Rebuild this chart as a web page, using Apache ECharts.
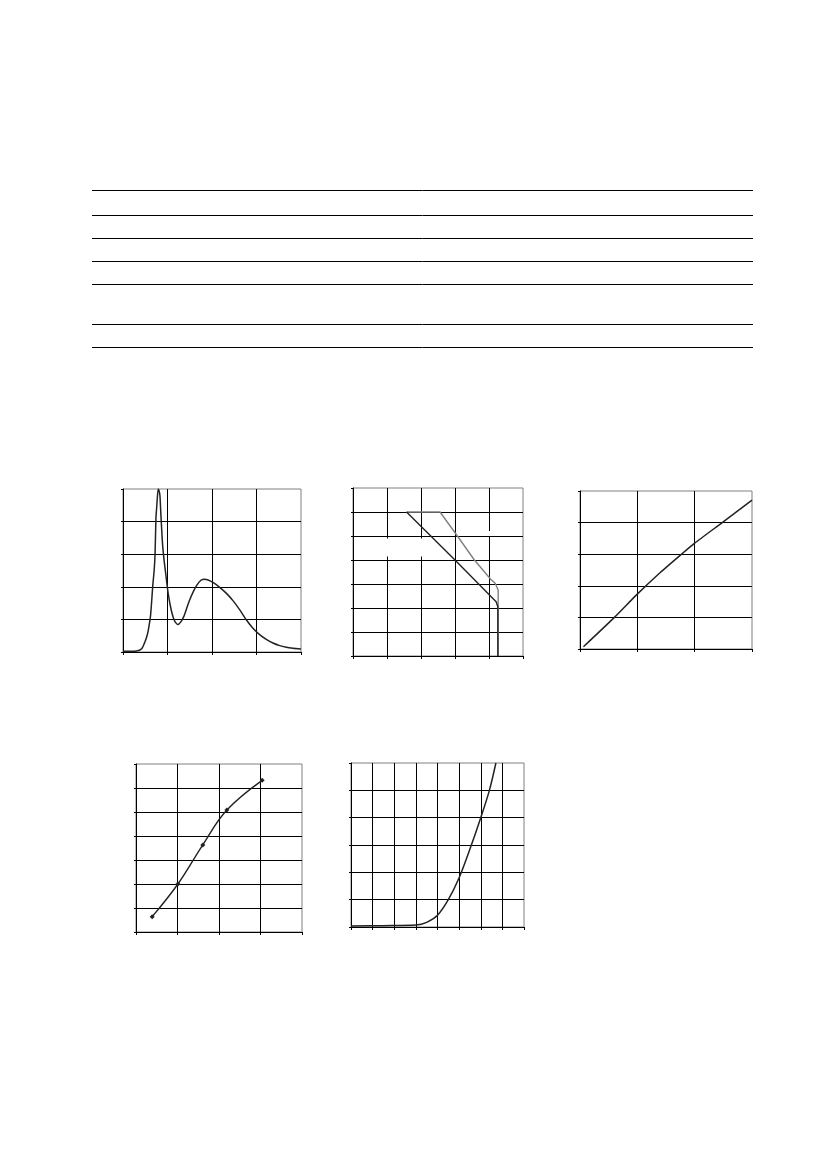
<!DOCTYPE html>
<html>
<head>
<meta charset="utf-8">
<script src="https://cdn.jsdelivr.net/npm/echarts@6/dist/echarts.min.js"></script>
<style>
html,body{margin:0;padding:0;background:#fff;}
#c{width:826px;height:1169px;}
</style>
</head>
<body>
<div id="c"></div>
<script>
// Chart 1: relative spectral distribution
const spectrumX = [400,430,442,449,454,457,462,467,470,472,474,476,479,481,483,485,487,489,492,496,502,509,516,523,530,537,543,550,558,566,575,583,590,603,618,633,648,662,677,692,707,722,737,752,767,782,800];
const spectrumY = [0.004,0.006,0.02,0.06,0.1,0.135,0.226,0.41,0.5,0.595,0.82,0.9,1.0,0.99,0.96,0.85,0.75,0.657,0.57,0.48,0.35,0.25,0.19,0.168,0.185,0.22,0.267,0.32,0.37,0.41,0.44,0.447,0.443,0.425,0.395,0.358,0.312,0.26,0.198,0.146,0.107,0.078,0.055,0.039,0.029,0.023,0.018];

// Chart 2: derating curves
const deratingDarkX = [1.575,3.0,4.21,4.26,4.26];
const deratingDarkY = [6,4.0,2.26,2.05,0];
const deratingGrayX = [1.575,2.56,3.07,3.57,4.05,4.18,4.27,4.27];
const deratingGrayY = [6,6,5.0,4.0,3.2,3.03,2.75,0];

// Chart 3: near-linear curve
const linX = [0.06,0.6,0.99,1.4,1.77,2.0,2.48,3.0];
const linY = [0.07,1.0,1.72,2.42,3.0,3.35,4.0,4.71];

// Chart 4: measured points
const ptsX = [0.39,1.01,1.61,2.19,3.04];
const ptsY = [0.64,2.0,3.63,5.08,6.32];

// Chart 5: exponential-like curve
const expX = [0,1.5,3.0,3.5,4.0,4.5,5.0,5.5,6.0,6.4,6.7];
const expY = [0.04,0.05,0.07,0.17,0.43,1.0,1.8,2.85,4.0,5.0,6.0];

// Axis ranges [min, max, interval]
const axesX = [[400,800,100],[0,5,1],[0,3,1],[0,4,1],[0,8,1]];
const axesY = [[0,1,0.2],[0,7,1],[0,5,1],[0,7,1],[0,6,1]];

const zip = (a,b) => a.map((v,i)=>[v,b[i]]);

const grids = [
  {left:123, top:489, width:178, height:163},
  {left:353, top:488, width:170, height:168},
  {left:580, top:491, width:172, height:158},
  {left:136, top:764, width:166, height:168},
  {left:351, top:763, width:173, height:164}
];

const chart = echarts.init(document.getElementById('c'), null, {renderer:'canvas'});

const xAxis = axesX.map((a,i)=>({
  type:'value', gridIndex:i, min:a[0], max:a[1], interval:a[2],
  axisLine:{show:true, onZero:false, lineStyle:{color:'#000', width:1}},
  axisTick:{show:true, length:3, lineStyle:{color:'#000'}},
  axisLabel:{show:false},
  splitLine:{show:true, showMinLine:false, showMaxLine:false, lineStyle:{color:'#000', width:1}}
}));
const yAxis = axesY.map((a,i)=>({
  type:'value', gridIndex:i, min:a[0], max:a[1], interval:a[2],
  axisLine:{show:true, onZero:false, lineStyle:{color:'#000', width:1}},
  axisTick:{show:true, length:2, lineStyle:{color:'#000'}},
  axisLabel:{show:false},
  splitLine:{show:true, showMinLine:false, showMaxLine:false, lineStyle:{color:'#000', width:1}}
}));

const lineBase = {type:'line', showSymbol:false, animation:false, z:3};

const series = [
  Object.assign({}, lineBase, {xAxisIndex:0, yAxisIndex:0, smooth:0.2, data:zip(spectrumX,spectrumY), lineStyle:{color:'#222', width:1.5}}),
  Object.assign({}, lineBase, {xAxisIndex:1, yAxisIndex:1, data:zip(deratingGrayX,deratingGrayY), lineStyle:{color:'#808080', width:1.4}}),
  Object.assign({}, lineBase, {xAxisIndex:1, yAxisIndex:1, data:zip(deratingDarkX,deratingDarkY), lineStyle:{color:'#222', width:1.4}}),
  Object.assign({}, lineBase, {xAxisIndex:2, yAxisIndex:2, smooth:0.2, data:zip(linX,linY), lineStyle:{color:'#222', width:1.5}}),
  Object.assign({}, lineBase, {xAxisIndex:3, yAxisIndex:3, smooth:0.4, showSymbol:true, symbol:'diamond', symbolSize:5, itemStyle:{color:'#222'}, data:zip(ptsX,ptsY), lineStyle:{color:'#222', width:1.4}}),
  Object.assign({}, lineBase, {xAxisIndex:4, yAxisIndex:4, smooth:0.3, data:zip(expX,expY), lineStyle:{color:'#222', width:1.5}})
];

// Table rule lines above the charts
const tableRules = [190,215,238,261,284,324,347];
const graphic = tableRules.map(y=>({
  type:'line', silent:true, z:1,
  shape:{x1:92, y1:y+0.5, x2:753, y2:y+0.5},
  style:{stroke:'#000', lineWidth:1}
}));
// small white patches breaking the grid in chart 2
graphic.push({type:'rect', silent:true, z:1, shape:{x:385, y:538.5, width:39, height:18}, style:{fill:'#fff'}});
graphic.push({type:'rect', silent:true, z:1, shape:{x:487.5, y:531, width:3.5, height:5}, style:{fill:'#fff'}});

chart.setOption({
  animation:false,
  backgroundColor:'#fff',
  grid: grids.map(g=>Object.assign({show:true, borderColor:'#808080', borderWidth:1, backgroundColor:'transparent'}, g)),
  xAxis, yAxis, series, graphic
});
</script>
</body>
</html>
